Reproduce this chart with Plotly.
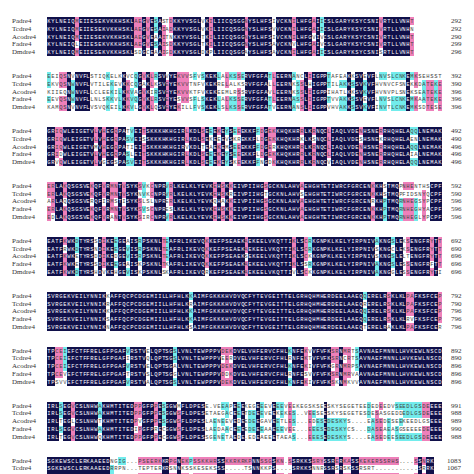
import numpy as np
import plotly.graph_objects as go

# species names and sequence end numbers per block
names = ["Padre4", "Tcdre4", "Acodre4", "Fadre4", "Dmdre4"]
ends = [
    [292, 292, 290, 299, 296],
    [392, 390, 396, 396, 396],
    [492, 490, 496, 496, 496],
    [592, 590, 596, 596, 596],
    [692, 690, 696, 696, 696],
    [792, 790, 796, 796, 796],
    [892, 890, 896, 896, 896],
    [991, 988, 989, 990, 988],
    [1083, 1067, 1080, 1081, 1079],
]

# aligned sequences, written in chunks of 10 columns
block1 = [
    "KYLNEIQMEI IESEKVKKHS KLAEGVESAS TDKKYVSGLV KILIICQSGG NYSLHFSIVC KNILHFGAII CSLGARYKSY CSNIVRTLLV NHT",
    "KYLNEIQMEI IESEKVKKHS KLAEGVESAI ADKKYVSGLV KILIICQSGG NYSLHFSVVC KNILHFGAII CSLGARYKSY CSNIVRTLLV NHN",
    "KYLNEIQMEI IESEKVKKHS KLAEGVEAAI TNKKYVSGLT KILIICQSGG NYSLHFSIVC KNILHFGVIV CSLGARYKSY CSNIVRTLLV NHT",
    "KYLNEIQLEI IESEKVKKHS KLAEGVESAI SDKKYVSGLT KILIICQSGG NYSLHFSAVC KNVLHFGAIV CSLGARYKSY CSNIVRTLLV NHT",
    "KYLNEIQMEI IESEKVKKHS KLSDGCEAAI GDKKYVSGLD KPLIICQSGG AYSLHFSAVC KNILHFGAII CSLGARYKSY CSNISRTLLV NHT",
]
block2 = [
    "EEIQSNVNVF LSTIQKELKK VCQGVKLRSV VYEKVVSFVS KEKLALKSSE RVFGFATLEE RNANCLIIGP PTAFEAKKSV EVFLNVSLCN KEMKSEHSST",
    "EKVQSNWNVF LVTILEKEVK KCQGAKLKSV EYEKVVTNFV KEKRELALKS RVFGFALLEE RNKSSLHIGP PTILAKKSSV KVFHVNVCFS NEKKDATEKE",
    "KIIEQNWNVF LLCLEEKILK KVAGVKIRSV EYEKVVKTFV KEKEEMLRSS RVFGFAVLEE RNKSSLIIGP PIHATLKKSV KVFHVNVPLS NEKSEATEKE",
    "EEVQSNWNVF LLNLSKKVLK KVQGVKLRSV EYESVVSFLS KEKLALKSSE RVFGFATLEE RNASSLIIGP PTVVAKKSSV EVFLNVSLCN KEMKAATEKE",
    "KAMQSNVNVF LVSVQKEILK KVLGVKLQSV EYEKILLFVS KEKLSLKSSE RVFGFATVEE RNANSLIIGP PVHVAKKSSV KVFINVTLCN KEMKSDTESE",
]
block3 = [
    "GRIQWLEIGE TVLVHEGQPA TVEITSKKKH KHGIRLKDLS EEEKEYSEEE KKFFDGEKKH QKHRRLKRNQ CLIAQLVDEN HSNERRHQHE LAQQLNEMAK",
    "GRIQWLEIGE TVLVHEGQPA SVEISSKKKH KHGIRLKDLS EKEEEVSKRE KKFLDGEKKH QKHRKLKSNQ CLIAQLVDES HSNEKRHQHE LAENLNEMAK",
    "GRIQWLEIGE TVMVHEGQPA TIEITSKKKH KHGIRVKDLT EAEKEMSEEE KKFFDGERKH QKHRRLKRNQ CLIAQLVDEN HSNERRHQHE LAQQLNEMAK",
    "GRIDWLEIGE TVLVHEGQPA SLEITSKKKH KHGIRLKDLS EEEKEYSEEE KKFLDGEKKH QKHRRLKRNQ CLIAQLVDEN HSNERRHQHE LAIALNEMAK",
    "GRVQWLEIGE TVLVGEGSPA SVEITSKKKH KHGIRLKDLS EEEKEYSKEE KKFFNGDKKH QKHRRLKRNQ CVIAQLVDEN HSNERRHQHE LAQQLNEMAK",
]
block4 = [
    "ERLAKQSGSV EKQFVRMNTV SYKSVKCNPR VRLKELKLYE VKEHSKKEIV PIIHGSGCKN LAHVAEHGHT ETIWRCFGRC ENKKHSTMQP NHENTHSCPF",
    "ERLAKQSGSV EKQFVRMNTV SYKNVKCNPR VRLKELKLYE VKEHSKREIV PIIHGTGCKN LAHVSEHGHT ETIWRCFGRC ENKKHSTMQP FIDSNYQCPF",
    "ARLAQQSGSV ERQFIRMSTI SYKSLSLNPR ERLKELKLYE VKQHAKKEIV PIIHGSGCKN LAHVAEHGHT ETIWRCFGRC ENRKHPTMQR NHEGSYPCPF",
    "ERLAKQSGSV EKQFVRMNTV SYKSVSCNPR ESLKELKLYE VKEHSKKEIV PIIHGSGCKN LAHVAEHGHT ETIWRCFGRC ENKKHPTMQR NHEGHYACPF",
    "EDLAKQSGSV EKQFVRANTV SYKSIRCNPR VRLKELKLYE VKEHSKKEIV PIIHGSGCKN LAHVAEHGHT ETIWRCFGRC ENKKHPTMQR NHEGLYPCPF",
]
block5 = [
    "EATFKWKDTY RSSDIKEEGE AISRPSKNLT EAFRLIKEVQ KKEFPSEAEK AEKEELVKQT TIKLSCRKGN PKLKELYIRP NIVAKNGSLE KSENGFRYTT",
    "EATFRWKDTY RSNDIKEEGE VISRPSKNLT EAFRLIKEVQ KKEFPSEAEK AEKEELVKQT TIKLSCRKGN PKLKELYIRP NIVSKNGCLE KSENGFRYTT",
    "EATFKWKETY RSDDIKEDGE VISRPSKNLT EAFRLIKEVQ KKEFPSEAEK SEKEELVKQT TIKLSCKKGN PKLKELYIRP NIVSKNGSLE LTENGFRYTT",
    "EATFKWKETY RSSDIKEEGE AISKPSKNLT KAFRLIKEVQ KKEFPSEAEK AEKEELVKQT TIKLSSRKGN PKLKELYIRP NIVAKNGSLE SSENGFRFTT",
    "EATFKWKDTY RSHDVKEHGE VISKPSKNLS KAFRLIKEVQ RKEFPSEAEK AEKEELVKQT TIVLSCKKGN PKLKELYIRP NIVAKNGGLE SSENGFRYTI",
]
block6 = [
    "SVRGEKVEIL YNNIKKAFFQ CPCDGEMIIL LHFHLKKAIM FGKKKHVDVQ CFYTEVGEIT TELGRHQHMH ERDEELAAEQ QERELRSKLK LPAFKSFCEP",
    "SVRGEKVEIL YNNIKRAFFQ CPCDGEMIIL LHFHLKRAIM FGKKKHVDVQ CFYTEVGEIT TELGRHQHMH ERDEELAAEQ RERELRSKLK LPAFKSFCEP",
    "SVRGEKVEIL YNNIKKAFFQ CPCDGEMIIL LHFHLKKAIM FGKKKHVDVQ CFYTEVGEIT TELGRHQHMH ERDEELAAEQ QERELRSKLK LPAFKSFCEP",
    "SVRGEKVEIL YNNIKSAFFQ CPCDGEMIIL LHFHLKKAIM FGKKKHVDVQ CFYTEVGEIT TELGRHQHMH ERDEELAAEQ QERELRSKLK LRVFKSFCEP",
    "SVRGEKVEIL YNNIKNAFFQ CPCDGEMIIL LHFHLKSAIM FGKKKHVDVQ CFYTEVGEIT TELGRHQHMH ERDEELAAEQ TERELRAKLK LPAFKSFCER",
]
block7 = [
    "TPCEIEFCTF FRELGFPGAF VRSTVELQPT SGSLVNLTEW PPPVDEKDVE LVHFERVCFH LKNFEKVVFV FKSRNMRTSA VNAEFMNNLL HVKEWLNSCD",
    "TPCEIEFCTF FRELGFPGAF IRSTVQLQPT SGSLVNLTEW PPPVEERDVE LVHFERVCFH LRNFEKTVFV FKSRNCRTSA VNAEFMNNLL HVKEWLNSCD",
    "TPCEIEFCTF FRELGFPGAF VRSTVELQPT SGALVNLTEW PPPVDEKDVE LVHFERVCFH LKNFEKIVFV FKGRNMRPSA VNAEFMNNLL HVKEWLNSCD",
    "TPCEVEFCTF FRELGFPGAF TRSTVSLQPT SGGLVNLTEW PPPVDDKDVE LVHFERVCFH LRNFESVVFV FKSRNMRVAA VNAEFMNNLL HVKEWLNSCD",
    "TPSVVEFCTF FRELGFPGAF VRSTVALQPT SGSLVNLTEW PPPVDEKDVE LVHFERVCFH LKNFEKIVFV FKSKNMKVVA VNAEFMNNLL HVKEWLNSCD",
]
block8 = [
    "IRLSEGVCSL NHWAKHMTIT EDPPGFPPES GGWMFLDPES E.VEEAPEEE KEGEEEVEEE VEEKEGSKSE ESKYSEGETE EDEDEEDVSE EDLGSDEEEE",
    "IRLSEGVCSL NHWAKHMTIT EDPPGFPPES GGWSFLDPES ETAEGACEEE TDEEEVEEKE KES..VEESE ESKYSEGETE SDESASGEDD EDLGSDEEEE",
    "IRLTEGLCSL NHWTKHMTIT EDPVGFPPES GGWSFLDPES LAENEEVEDE EDEEGAVEET LES...EDES EDESKYS... .EASEDESEE KEEDLGSEEE",
    "IRLSEGVCSL NHWAKHMTIT EDIPGFPREC GGWSFLDPES LAEDAACEEE EDEEEAAEEE VEE...EEES EDESKYCS.. .DASEAEASG SEEEEDEEEE",
    "IRLTEGVCSL NHWQKHMTIT EDPPGFPPEC GGWSFLDPES SGENETAEDE .EDEAEEETA EAS...EEES EDESKYS... .EASEDEESE EDLGSDEEEE",
]
block9 = [
    "SGKEWSCLER KAAEEDNGIG ...PSEERKK RPGNEKPSSK KHRSSKKRKR KPNNSSGSKN .SSRKKSSRY SSRERKASSK EKERSSRHS. ...SSNRK",
    "SGKEWSCLER KAAEEDRRPN ...TEPTERK RSNNKSSKES EKSSS..... TSNNKKPS.. ..SRKKSNNR SSRSRSKSSR SRT....... ....SRRK",
    "SGKEWSCLER KAAEEDRKSS ...PSEERKK RPGNEKSSSK KHRSSKKRKR KPNNSSGSKN .SSRKKSSRY SSRERKASSK EKERSSRHS. ...SSNRK",
    "SGKEWSCLER KAAEEDNKIG ...PSEERKK RPGNEKPSSK KHRSSKKRKR KPNNSSGSKN .SSRKKSSRY SSRERKASSK EKERSSRHS. ...SSNRK",
    "SGKEWSCLER KAAEEDRGIG ...PSEERKK RPGNEKPSSK KHRSSKKRKR KPNNSSGSKN .SSRKKSSRY SSRERKASSK EKERSSRHS. ...SSNRK",
]
blocks = [block1, block2, block3, block4, block5, block6, block7, block8, block9]

NCOL = 100
ROWS_PER_BLOCK = 7  # 5 sequences + 2 spacer rows

z = []
txt = []
for blk in blocks:
    seqs = [s.replace(" ", "") for s in blk]
    n = max(len(s) for s in seqs)
    cls = np.full((5, NCOL), np.nan)
    tx = [[""] * NCOL for _ in range(5)]
    for c in range(n):
        col = [s[c] if c < len(s) else "" for s in seqs]
        res = [a for a in col if a not in ("", ".")]
        best, cnt = None, 0
        for a in set(res):
            if res.count(a) > cnt:
                best, cnt = a, res.count(a)
        level = {5: 3, 4: 2, 3: 1}.get(cnt, 0)
        for r, a in enumerate(col):
            if a == "":
                continue
            tx[r][c] = a
            cls[r, c] = level if a == best else 0
    for r in range(5):
        z.append(list(cls[r]))
        txt.append(tx[r])
    for _ in range(ROWS_PER_BLOCK - 5):
        z.append([np.nan] * NCOL)
        txt.append([""] * NCOL)

navy, pink, cyan = "#10104a", "#ee80ba", "#72ecec"
cscale = [[0, "white"], [0.17, "white"], [0.17, cyan], [0.5, cyan],
          [0.5, pink], [0.83, pink], [0.83, navy], [1, navy]]

fig = go.Figure(go.Heatmap(
    z=z, text=txt, texttemplate="%{text}",
    textfont=dict(family="Liberation Mono", size=5.5),
    colorscale=cscale, zmin=0, zmax=3, showscale=False, hoverinfo="skip",
))

W, H = 474, 474
colw, rowh = 3.95, 7.85
x0px, y0px = 39, 9
xr = [-0.5 - x0px / colw, -0.5 - x0px / colw + W / colw]
yr = [-0.5 + (H - y0px) / rowh, -0.5]

ann = []
for b, blk in enumerate(blocks):
    for r in range(5):
        y = b * ROWS_PER_BLOCK + r
        ann.append(dict(x=0.004, xref="paper", y=y, yref="y", text=names[r],
                        showarrow=False, xanchor="left",
                        font=dict(family="Liberation Serif", size=7, color="#333")))
        ann.append(dict(x=0.962, xref="paper", y=y, yref="y", text=str(ends[b][r]),
                        showarrow=False, xanchor="right",
                        font=dict(family="Liberation Serif", size=7, color="#333")))

fig.update_layout(
    width=W, height=H, margin=dict(l=0, r=0, t=y0px, b=0),
    paper_bgcolor="white", plot_bgcolor="white",
    xaxis=dict(range=xr, visible=False),
    yaxis=dict(range=yr, visible=False),
    annotations=ann,
)

fig.write_html("out.html")
